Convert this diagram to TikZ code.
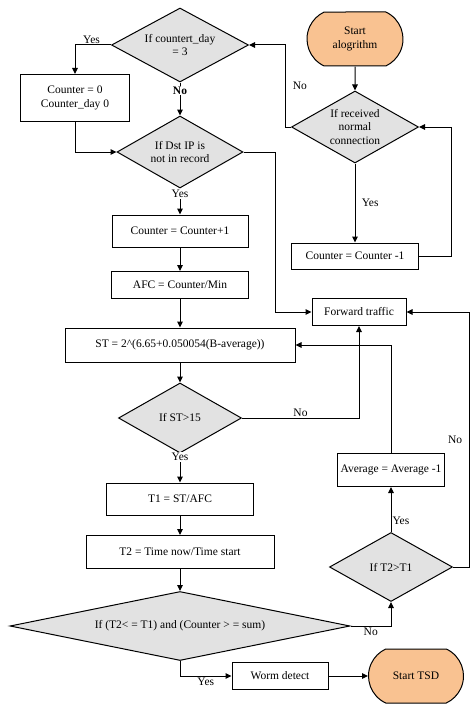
\documentclass[tikz,border=0pt]{standalone}
\usepackage{fontspec}
\setmainfont{Liberation Serif}
\usetikzlibrary{shapes.geometric,shapes.misc,arrows.meta}
\definecolor{termorange}{HTML}{F9C291}
\definecolor{decgray}{HTML}{E2E2E2}

\begin{document}
\begin{tikzpicture}[x=1pt,y=-1pt,
    font=\fontsize{11.5}{13.3}\selectfont,
    >={Triangle[length=6pt,width=5.5pt]},
    line/.style={draw, line width=1pt, ->},
    process/.style={draw, line width=1pt, fill=white, align=center, inner sep=0pt},
    decision/.style={draw, line width=1pt, diamond, aspect=1.8, fill=decgray, align=center, inner sep=0pt},
    terminal/.style={draw, line width=1pt, rounded rectangle, rounded rectangle arc length=130,
        fill=termorange, align=center, inner sep=0pt},
    lbl/.style={inner sep=1pt}]
\useasboundingbox (0,0) rectangle (474,709);

% right branch
\node[terminal, minimum width=96pt, minimum height=54pt] (start) at (355,39) {Start\\alogrithm};
\node[decision, minimum width=127pt, minimum height=72pt] (recv) at (355,127) {If received\\normal\\connection};
\node[process, minimum width=127pt, minimum height=26pt] (dec) at (355,256) {Counter = Counter -1};
\node[process, minimum width=94pt, minimum height=27pt] (fwd) at (359,312) {Forward traffic};
\node[process, minimum width=107pt, minimum height=33pt] (avg) at (391,470) {Average = Average -1};
\node[decision, minimum width=123pt, minimum height=69pt] (tcmp) at (391,567) {If T2>T1};

% main column
\node[decision, minimum width=137pt, minimum height=74pt] (day) at (180,45) {If countert\_day\\= 3};
\node[process, minimum width=109pt, minimum height=47pt] (reset) at (75,98) {Counter = 0\\Counter\_day 0};
\node[decision, minimum width=126pt, minimum height=72pt] (dst) at (180,152) {If Dst IP is\\not in record};
\node[process, minimum width=136pt, minimum height=32pt] (inc) at (180,231) {Counter = Counter+1};
\node[process, minimum width=137pt, minimum height=27pt] (afc) at (180,285) {AFC = Counter/Min};
\node[process, minimum width=230pt, minimum height=34pt] (st) at (180,345) {ST = 2\^{}(6.65+0.050054(B-average))};
\node[decision, minimum width=123pt, minimum height=70pt] (stchk) at (180,418) {If ST>15};
\node[process, minimum width=147pt, minimum height=32pt] (tone) at (180,499) {T1 = ST/AFC};
\node[process, minimum width=188pt, minimum height=33pt] (ttwo) at (180,552) {T2 = Time now/Time start};
\node[decision, aspect=5, minimum width=340pt, minimum height=69pt] (cond) at (180,626) {If (T2< = T1) and (Counter > = sum)};
\node[process, minimum width=96pt, minimum height=27pt] (worm) at (280,676) {Worm detect};
\node[terminal, minimum width=95pt, minimum height=54pt] (tsd) at (416,676) {Start TSD};

% connectors
\draw[line] (start) -- (recv);
\draw[line] (recv.west) -- ++(-6,0) |- (day.east) node[pos=0.25, right=4pt] {No};
\draw[line] (day.west) -| (reset.north) node[pos=0.27, above, lbl] {Yes};
\draw[line] (day.south) -- (dst.north) node[pos=0.24, fill=white, lbl] {\textbf{No}};
\draw[line] (reset.south) |- (dst.west);
\draw[line] (dst.east) -- ++(32,0) |- (fwd.west);
\draw[line] (dst.south) -- (inc.north) node[pos=0.22, fill=white, lbl] {Yes};
\draw[line] (recv.south) -- (dec.north) node[midway, right=3pt] {Yes};
\draw[line] (dec.east) -- ++(32,0) |- (recv.east);
\draw[line] (inc) -- (afc);
\draw[line] (afc) -- (st);
\draw[line] (st) -- (stchk);
\draw[line] (stchk.east) -| (fwd.south) node[pos=0.25, above, lbl] {No};
\draw[line] (stchk.south) -- (tone.north) node[pos=0.12, fill=white, lbl] {Yes};
\draw[line] (tone) -- (ttwo);
\draw[line] (ttwo) -- (cond);
\draw[line] (cond.east) -| (tcmp.south) node[pos=0.25, below, lbl] {No};
\draw[line] (tcmp.north) -- (avg.south) node[pos=0.25, right, lbl] {Yes};
\draw[line] (avg.north) |- (st.east);
\draw[line] (tcmp.east) -- ++(16,0) |- (fwd.east) node[pos=0.25, left=3pt] {No};
\draw[line] (cond.south) |- (worm.west) node[pos=0.75, below, lbl] {Yes};
\draw[line] (worm) -- (tsd);
\end{tikzpicture}
\end{document}
